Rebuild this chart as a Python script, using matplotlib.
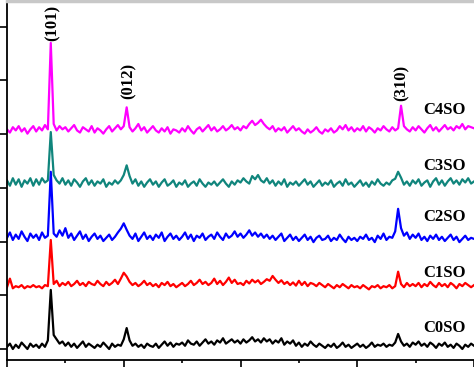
import numpy as np
import matplotlib
matplotlib.use("Agg")
import matplotlib.pyplot as plt
from matplotlib.ticker import MultipleLocator

# 2theta grid, 30 to 70 deg in 0.25 deg steps
two_theta = np.arange(161) * 0.25 + 30.0

samples = ["C0SO", "C1SO", "C2SO", "C3SO", "C4SO"]
colors = ["black", "#ff0000", "#0000ff", "#10857c", "#ff00ff"]
offsets = [0, 100, 200, 300, 400]

c0so = [
    4, 10, 0, 8, 2, 12, 6, 0, 10, 4,
    8, 2, 10, 4, 16, 110, 26, 18, 10, 14,
    6, 12, 4, 10, 2, 8, 14, 4, 10, 6,
    2, 8, 4, 12, 6, 0, 10, 4, 8, 6,
    18, 39, 16, 6, 10, 4, 8, 2, 10, 6,
    4, 10, 2, 8, 14, 6, 12, 4, 10, 8,
    12, 6, 16, 10, 8, 14, 6, 12, 18, 10,
    14, 8, 16, 12, 20, 10, 14, 18, 12, 16,
    10, 18, 12, 16, 22, 14, 18, 12, 20, 14,
    18, 10, 16, 12, 20, 8, 14, 10, 16, 6,
    12, 4, 10, 6, 14, 8, 4, 10, 6, 2,
    8, 4, 10, 2, 6, 12, 4, 8, 2, 6,
    10, 4, 8, 2, 6, 12, 4, 8, 6, 10,
    4, 8, 6, 12, 28, 14, 6, 10, 4, 12,
    8, 14, 6, 10, 4, 12, 8, 2, 10, 6,
    12, 4, 8, 2, 10, 6, 0, 8, 4, 10,
    6,
]
c1so = [
    15, 31, 13, 17, 15, 19, 13, 17, 15, 19,
    15, 17, 13, 19, 17, 103, 21, 27, 17, 23,
    19, 25, 17, 21, 27, 19, 23, 17, 25, 21,
    19, 27, 21, 17, 25, 19, 23, 29, 21, 31,
    42, 35, 25, 19, 23, 17, 21, 27, 19, 23,
    17, 21, 15, 23, 19, 25, 17, 21, 15, 19,
    23, 17, 21, 27, 19, 23, 29, 21, 25, 19,
    23, 31, 21, 27, 19, 25, 33, 23, 29, 21,
    23, 19, 27, 22, 29, 24, 28, 21, 25, 30,
    27, 36, 29, 23, 28, 21, 25, 19, 24, 18,
    27, 19, 25, 17, 23, 21, 17, 23, 19, 15,
    21, 17, 13, 19, 15, 21, 17, 13, 19, 15,
    17, 13, 19, 15, 11, 17, 15, 19, 13, 17,
    15, 19, 13, 17, 44, 21, 15, 23, 17, 21,
    17, 23, 15, 21, 17, 25, 19, 15, 23, 17,
    21, 15, 23, 19, 13, 21, 17, 23, 19, 15,
    19,
]
c2so = [
    7, 17, 3, 13, 5, 19, 9, 1, 15, 7,
    13, 3, 17, 7, 11, 130, 15, 9, 21, 11,
    25, 7, 15, 3, 11, 19, 5, 13, 1, 9,
    15, 5, 11, 1, 7, 13, 3, 9, 17, 24,
    34, 22, 11, 5, 15, 1, 9, 17, 5, 11,
    3, 13, 7, 17, 1, 9, 15, 5, 11, 3,
    9, 17, 5, 13, 1, 11, 7, 15, 3, 9,
    13, 5, 17, 9, 3, 15, 7, 11, 19, 9,
    15, 7, 13, 21, 11, 17, 9, 15, 7, 13,
    5, 11, 3, 9, 15, 1, 7, 13, 3, 9,
    1, 7, 13, 3, 9, -1, 7, 11, 3, 5,
    11, 1, 7, 3, 13, 5, -1, 9, 3, 7,
    1, 9, 5, 13, 3, 7, -1, 11, 5, 15,
    3, 9, 7, 19, 61, 25, 11, 17, 5, 13,
    7, 15, 3, 9, 1, 11, 5, 13, 3, 9,
    1, 7, 13, 3, 9, -1, 5, 11, 3, 7,
    5,
]
c3so = [
    14, 4, 18, 6, 16, 2, 14, 8, 18, 4,
    16, 6, 18, 10, 14, 104, 24, 14, 8, 18,
    6, 14, 4, 16, 10, 2, 12, 18, 6, 14,
    4, 12, 8, 16, 2, 10, 6, 14, 8, 14,
    24, 42, 22, 8, 16, 4, 12, 2, 10, 16,
    6, 12, 2, 10, 16, 4, 8, 14, 2, 10,
    6, 14, 2, 8, 12, 4, 16, 8, 2, 10,
    6, 12, 4, 10, 16, 8, 2, 12, 6, 14,
    10, 18, 12, 8, 22, 16, 24, 14, 10, 18,
    8, 14, 4, 12, 6, 16, 2, 10, 6, 12,
    4, 10, 16, 6, 12, 2, 8, 14, 4, 10,
    6, 14, 2, 8, 12, 4, 16, 6, 10, 2,
    8, 14, 4, 10, 2, 12, 6, 16, 8, 4,
    10, 6, 14, 17, 30, 19, 6, 12, 4, 14,
    8, 16, 4, 10, 14, 2, 12, 18, 6, 14,
    4, 12, 18, 8, 14, 6, 16, 10, 18, 8,
    12,
]
c4so = [
    9, 3, 13, 7, 15, 5, 11, 1, 9, 15,
    5, 13, 7, 17, 9, 170, 19, 7, 15, 9,
    13, 5, 11, 17, 7, 3, 13, 9, 5, 15,
    3, 11, 7, 1, 9, 15, 5, 11, 17, 9,
    15, 50, 13, 5, 11, 19, 7, 13, 3, 9,
    15, 7, 3, 11, 5, 13, 1, 9, 7, 3,
    11, 5, 15, 7, 1, 9, 13, 5, 11, 17,
    7, 13, 5, 9, 15, 7, 11, 17, 9, 13,
    7, 15, 11, 19, 25, 17, 21, 27, 19, 13,
    9, 15, 5, 11, 7, 13, 3, 9, 15, 7,
    11, 5, 1, 9, 3, 7, 13, 5, 1, 9,
    5, 11, 3, 7, 15, 9, 17, 7, 13, 5,
    11, 7, 15, 5, 13, 9, 3, 11, 7, 15,
    9, 5, 13, 7, 11, 53, 15, 9, 5, 13,
    7, 15, 9, 3, 11, 17, 7, 13, 5, 11,
    17, 9, 13, 7, 15, 11, 19, 9, 15, 13,
    11,
]
intensities = [c0so, c1so, c2so, c3so, c4so]

# peak labels: text, 2theta, height
peak_labels = ["(101)", "(012)", "(310)"]
peak_x = [33.94, 40.45, 63.8]
peak_y = [608, 499, 495]

# sample label heights
sample_label_y = [39, 142, 245, 340, 445]

plt.rcParams["font.family"] = ["Liberation Serif", "DejaVu Serif"]

fig = plt.figure(figsize=(4.74, 3.68), dpi=100)
ax = fig.add_axes([7 / 474, 8 / 368, 1 - 7 / 474, 1 - 9 / 368])

for name, col, off, vals in zip(samples, colors, offsets, intensities):
    ax.plot(two_theta, np.array(vals) + off, color=col, lw=1.6)

for txt, x, y in zip(peak_labels, peak_x, peak_y):
    ax.text(x, y, txt, rotation=90, ha="center", va="center",
            fontsize=12, fontweight="bold")

for name, y in zip(samples, sample_label_y):
    ax.text(67.45, y, name, ha="center", va="center",
            fontsize=12, fontweight="bold")

ax.set_xlim(30, 70)
ax.set_ylim(-20.5, 648)
ax.xaxis.set_major_locator(MultipleLocator(10))
ax.xaxis.set_minor_locator(MultipleLocator(5))
ax.yaxis.set_major_locator(MultipleLocator(100))
ax.tick_params(axis="x", which="major", direction="out", length=5, width=1.2,
               labelbottom=False)
ax.tick_params(axis="x", which="minor", direction="out", length=2.5, width=1.2)
ax.tick_params(axis="y", which="major", direction="out", length=5, width=1.2,
               labelleft=False)

ax.spines["right"].set_visible(False)
ax.spines["top"].set_color("#c8c8c8")
ax.spines["top"].set_linewidth(2.5)
ax.spines["left"].set_linewidth(1.3)
ax.spines["bottom"].set_linewidth(1.3)

fig.savefig("out.png", dpi=100)
